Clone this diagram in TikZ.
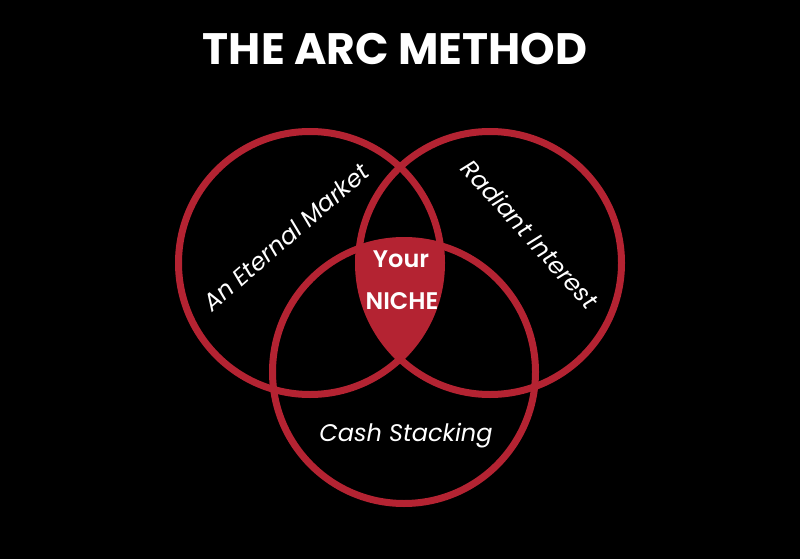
\documentclass[tikz,border=0pt]{standalone}
\usepackage{fontspec}
\setmainfont{Poppins}
\newfontfamily\popbold{Poppins}[UprightFont=* Bold]
\newfontfamily\popsemi{Poppins}[UprightFont=* SemiBold]
\newfontfamily\popital{Poppins}[UprightFont=* Italic]
\definecolor{nred}{RGB}{180,35,50}
\tikzset{
  ring/.style={draw=nred, line width=7pt},
  lbl/.style={text=white, inner sep=0pt, font=\popital\fontsize{24}{28}\selectfont},
  nichetxt/.style={text=white, inner sep=0pt, font=\popsemi\fontsize{24}{28}\selectfont},
}
\begin{document}
\begin{tikzpicture}[x=1pt,y=-1pt]
\fill[black] (0,0) rectangle (800,559);
\useasboundingbox (0,0) rectangle (800,559);
\coordinate (cl) at (310,263);
\coordinate (cr) at (490,263);
\coordinate (cb) at (404,372);
\begin{scope}
  \clip (cl) circle (131.5pt);
  \clip (cr) circle (131.5pt);
  \fill[nred] (cb) circle (131.5pt);
\end{scope}
\draw[ring] (cl) circle (131.5pt);
\draw[ring] (cr) circle (131.5pt);
\draw[ring] (cb) circle (131.5pt);
\node[text=white, inner sep=0pt, font=\popbold\fontsize{44}{50}\selectfont] (title) at (395,49) {THE ARC METHOD};
\node[nichetxt] (your) at (401,259) {Your};
\node[nichetxt] (niche) at (402,301) {NICHE};
\node[lbl] (cash) at (406,436) {Cash Stacking};
\node[lbl, rotate=41] (eternal) at (286,237) {An Eternal Market};
\node[lbl, rotate=-48] (radiant) at (530,234) {Radiant Interest};
\end{tikzpicture}
\end{document}
